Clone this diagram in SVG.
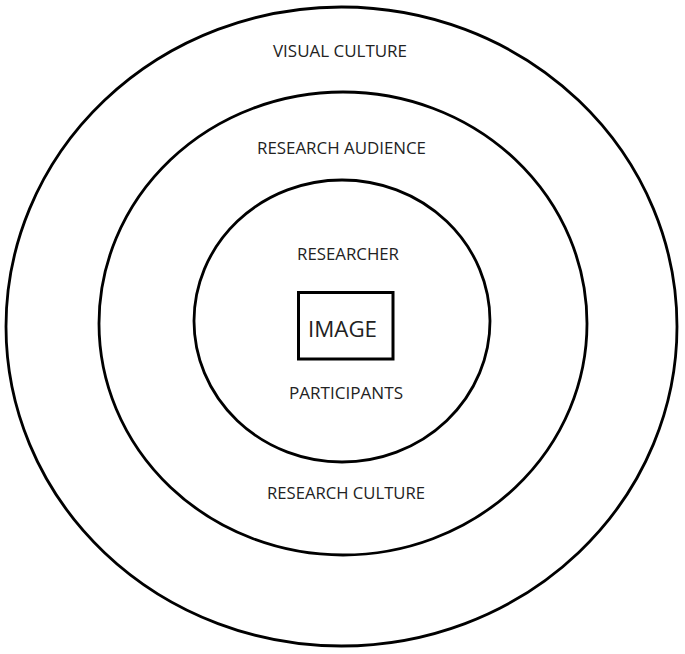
<svg xmlns="http://www.w3.org/2000/svg" width="685" height="654" viewBox="0 0 685 654">
<style>
.ring{fill:none;stroke:#000;stroke-width:2.8}
.lbl{font-family:"Open Sans","Liberation Sans",sans-serif;font-size:16px;fill:#222}
.big{font-size:21px}
</style>
<rect width="685" height="654" fill="#fff"/>
<g id="visual-culture">
<ellipse class="ring" cx="341.5" cy="326.5" rx="335.5" ry="319.5"/>
<text class="lbl" x="273" y="57" textLength="134" lengthAdjust="spacingAndGlyphs">VISUAL CULTURE</text>
</g>
<g id="research-audience">
<ellipse class="ring" cx="343" cy="323.5" rx="244" ry="231.5"/>
<text class="lbl" x="257" y="154" textLength="169" lengthAdjust="spacingAndGlyphs">RESEARCH AUDIENCE</text>
<text class="lbl" x="267" y="499" textLength="158" lengthAdjust="spacingAndGlyphs">RESEARCH CULTURE</text>
</g>
<g id="researcher">
<ellipse class="ring" cx="342" cy="321" rx="148" ry="141"/>
<text class="lbl" x="297" y="260" textLength="102" lengthAdjust="spacingAndGlyphs">RESEARCHER</text>
<text class="lbl" x="289" y="399" textLength="114" lengthAdjust="spacingAndGlyphs">PARTICIPANTS</text>
</g>
<g id="image">
<rect x="298.5" y="292.5" width="94.5" height="66.5" fill="none" stroke="#000" stroke-width="3"/>
<text class="lbl big" x="308" y="337" textLength="69" lengthAdjust="spacingAndGlyphs">IMAGE</text>
</g>
<g id="connectors"/>
</svg>
